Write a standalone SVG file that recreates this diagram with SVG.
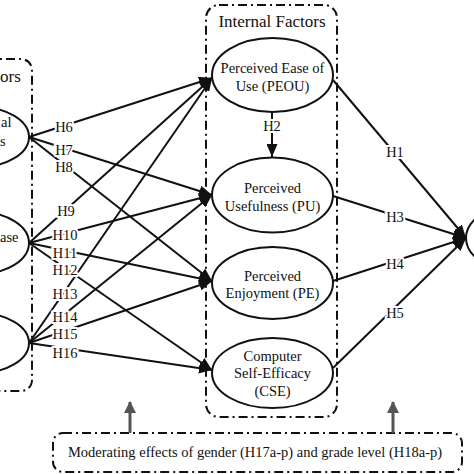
<svg xmlns="http://www.w3.org/2000/svg" width="474" height="474" viewBox="0 0 474 474">
<style>
.t{font-family:"Liberation Serif","Times New Roman",serif;font-size:14.5px;fill:#111;text-anchor:middle}
.ti{font-family:"Liberation Serif","Times New Roman",serif;font-size:17px;fill:#111}
.lb{font-family:"Liberation Serif","Times New Roman",serif;font-size:14.5px;fill:#111;text-anchor:middle;stroke:#fff;stroke-width:4px;paint-order:stroke;stroke-linejoin:round}
.box{fill:none;stroke:#111;stroke-width:2;stroke-dasharray:9 4 2 4}
.el{fill:#fff;stroke:#111;stroke-width:2}
.ln{stroke:#111;stroke-width:2;fill:none;marker-end:url(#ah)}
.gr{stroke:#555;stroke-width:3;fill:none;marker-end:url(#gh)}
</style>
<defs>
<marker id="ah" markerUnits="userSpaceOnUse" markerWidth="13" markerHeight="11" refX="13" refY="5.5" orient="auto"><path d="M0,0 L13,5.5 L0,11 z" fill="#111"/></marker>
<marker id="gh" markerUnits="userSpaceOnUse" markerWidth="12" markerHeight="12" refX="11" refY="6" orient="auto"><path d="M0,0 L12,6 L0,12 z" fill="#555"/></marker>
</defs>
<rect width="474" height="474" fill="#fff"/>

<g id="external-box">
<rect class="box" x="-100" y="59" width="132" height="332" rx="11"/>
<text class="ti" x="0" y="82">ors</text>
</g>
<g id="internal-box">
<rect class="box" x="206" y="5" width="131" height="412" rx="13"/>
<text class="ti" x="272" y="27" text-anchor="middle">Internal Factors</text>
</g>
<g id="moderating-box">
<rect class="box" x="53" y="433" width="409" height="39" rx="10"/>
<text class="t" x="255" y="457">Moderating effects of gender (H17a-p) and grade level (H18a-p)</text>
</g>

<g id="connectors">
<line class="ln" x1="29" y1="137" x2="212" y2="78"/>
<line class="ln" x1="29" y1="137" x2="212" y2="195"/>
<line class="ln" x1="29" y1="137" x2="212" y2="281"/>
<line class="ln" x1="29" y1="243" x2="212" y2="78"/>
<line class="ln" x1="29" y1="243" x2="212" y2="195"/>
<line class="ln" x1="29" y1="243" x2="212" y2="281"/>
<line class="ln" x1="29" y1="243" x2="212" y2="370"/>
<line class="ln" x1="29" y1="343" x2="212" y2="78"/>
<line class="ln" x1="29" y1="343" x2="212" y2="195"/>
<line class="ln" x1="29" y1="343" x2="212" y2="281"/>
<line class="ln" x1="29" y1="343" x2="212" y2="370"/>
<line class="ln" x1="272" y1="112" x2="272" y2="157"/>
<line class="ln" x1="333" y1="80" x2="466" y2="238"/>
<line class="ln" x1="333" y1="196" x2="466" y2="238"/>
<line class="ln" x1="333" y1="281" x2="466" y2="238"/>
<line class="ln" x1="333" y1="368" x2="466" y2="238"/>
<line class="gr" x1="130" y1="433" x2="130" y2="402"/>
<line class="gr" x1="393" y1="433" x2="393" y2="402"/>
<text class="lb" x="64" y="132">H6</text>
<text class="lb" x="64" y="155">H7</text>
<text class="lb" x="64" y="172">H8</text>
<text class="lb" x="66" y="216">H9</text>
<text class="lb" x="65" y="240">H10</text>
<text class="lb" x="65" y="258">H11</text>
<text class="lb" x="65" y="275">H12</text>
<text class="lb" x="65" y="299">H13</text>
<text class="lb" x="65" y="322">H14</text>
<text class="lb" x="65" y="339">H15</text>
<text class="lb" x="65" y="358">H16</text>
<text class="lb" x="272" y="131">H2</text>
<text class="lb" x="395" y="157">H1</text>
<text class="lb" x="395" y="222">H3</text>
<text class="lb" x="395" y="269">H4</text>
<text class="lb" x="395" y="318">H5</text>
</g>

<g id="ext1">
<ellipse class="el" cx="-21" cy="137" rx="50" ry="30"/>
<text class="t" x="1" y="127" style="text-anchor:start">al</text>
<text class="t" x="0" y="146" style="text-anchor:start">s</text>
</g>
<g id="ext2">
<ellipse class="el" cx="-21" cy="243" rx="50" ry="31"/>
<text class="t" x="0" y="242" style="text-anchor:start">ase</text>
</g>
<g id="ext3">
<ellipse class="el" cx="-21" cy="343" rx="50" ry="30"/>
</g>
<g id="peou">
<ellipse class="el" cx="272.5" cy="75" rx="60.5" ry="37"/>
<text class="t" x="272.5" y="73">Perceived Ease of</text>
<text class="t" x="272.5" y="91">Use (PEOU)</text>
</g>
<g id="pu">
<ellipse class="el" cx="272.5" cy="195" rx="60.5" ry="37.5"/>
<text class="t" x="272.5" y="193">Perceived</text>
<text class="t" x="272.5" y="211">Usefulness (PU)</text>
</g>
<g id="pe">
<ellipse class="el" cx="272.5" cy="283" rx="60.5" ry="36"/>
<text class="t" x="272.5" y="281">Perceived</text>
<text class="t" x="272.5" y="298">Enjoyment (PE)</text>
</g>
<g id="cse">
<ellipse class="el" cx="272.5" cy="373" rx="60.5" ry="35"/>
<text class="t" x="272.5" y="361">Computer</text>
<text class="t" x="272.5" y="378">Self-Efficacy</text>
<text class="t" x="272.5" y="396">(CSE)</text>
</g>
<g id="outcome">
<ellipse class="el" cx="520" cy="238" rx="54" ry="34"/>
</g>
</svg>
